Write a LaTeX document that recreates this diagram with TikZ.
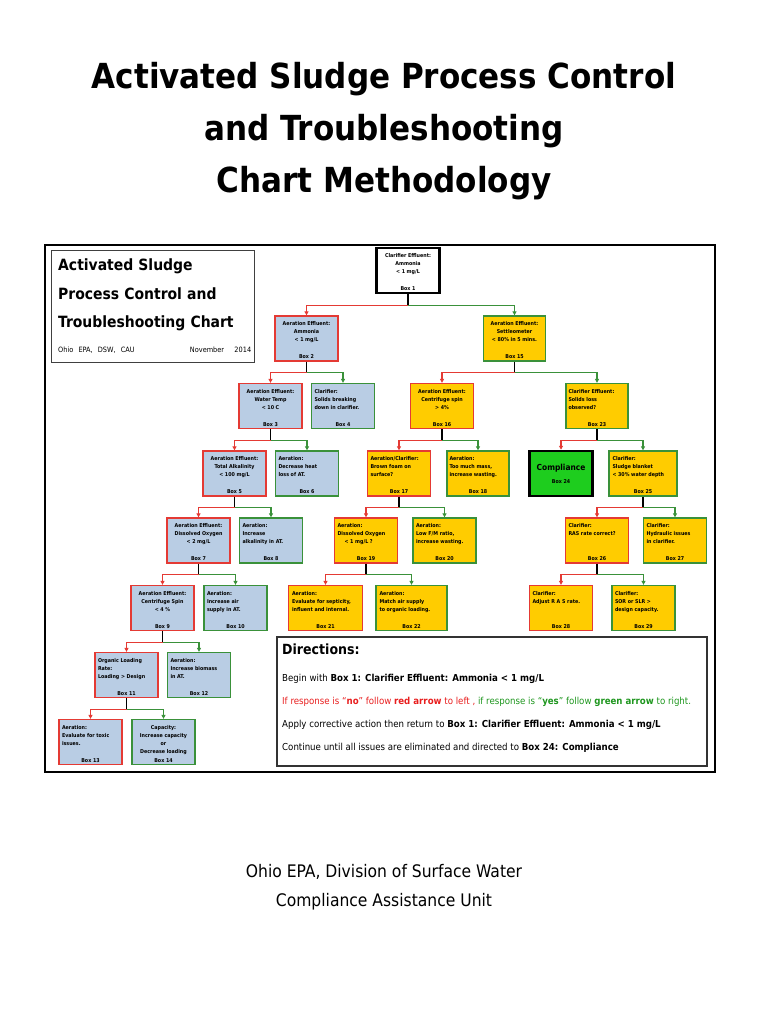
\documentclass[tikz,border=0pt]{standalone}
\usepackage{fontspec}
\setmainfont{DejaVu Sans Condensed}
\usetikzlibrary{arrows.meta}

\definecolor{boxblue}{RGB}{185,205,228}
\definecolor{boxyellow}{RGB}{255,204,0}
\definecolor{noline}{RGB}{228,58,52}
\definecolor{yesline}{RGB}{58,145,58}
\definecolor{compgreen}{RGB}{30,205,30}
\definecolor{notext}{RGB}{232,30,30}
\definecolor{yestext}{RGB}{30,150,30}

\tikzset{
  chartbox/.style={draw, rectangle, line width=1.3pt, inner sep=0pt,
    minimum width=63pt, minimum height=45pt,
    font=\fontsize{5.3}{8}\selectfont\bfseries},
  qblue/.style={chartbox, fill=boxblue, draw=noline},
  ablue/.style={chartbox, fill=boxblue, draw=yesline},
  qyellow/.style={chartbox, fill=boxyellow, draw=noline},
  ayellow/.style={chartbox, fill=boxyellow, draw=yesline},
  startbox/.style={chartbox, fill=white, draw=black, line width=2.5pt},
  compbox/.style={chartbox, fill=compgreen, draw=black, line width=2.5pt, align=center},
  stem/.style={line width=1.8pt, black},
  nolink/.style={line width=1.3pt, noline, -{Triangle[length=4pt,width=4pt]}},
  yeslink/.style={line width=1.3pt, yesline, -{Triangle[length=4pt,width=4pt]}}
}

% box text: lines at the top, box number at the bottom
\newcommand{\bx}[4][57pt]{\parbox[c][41pt][t]{#1}{#2\rule{0pt}{7.5pt}#3\par\vfill\centering Box #4}}

\begin{document}
\begin{tikzpicture}[x=1pt,y=-1pt]
    \useasboundingbox (0,0) rectangle (768,1024);

    \node[font=\fontsize{34.5}{52}\selectfont\bfseries, align=center] (title) at (384,131)
	{Activated Sludge Process Control\\and Troubleshooting\\Chart Methodology};

    \draw[line width=2pt] (45,245) rectangle (715,772);

    \node[draw=black!75, line width=1.4pt, minimum width=203pt, minimum height=112pt,
	inner sep=0pt, anchor=north west] (namebox) at (51,250) {};
    \node[anchor=north west, align=left, text width=193pt, inner sep=0pt,
	font=\fontsize{15.5}{28.5}\selectfont\bfseries] (nametext) at (58,259)
	{Activated Sludge\\Process Control and\\Troubleshooting Chart\\[-4pt]
	{\fontsize{7.3}{8}\selectfont\mdseries Ohio EPA, DSW, CAU\hfill November\ \ 2014\hspace*{4pt}}};

    % row 1
    \node[startbox] (b1) at (408,270.5) {\bx{\centering}{Clarifier Effluent:\\Ammonia\\< 1 mg/L}{1}};
    % row 2
    \node[qblue] (b2) at (306.5,338.5) {\bx{\centering}{Aeration Effluent:\\Ammonia\\< 1 mg/L}{2}};
    \node[ayellow, minimum width=62pt] (b15) at (514.5,338.5) {\bx{\centering}{Aeration Effluent:\\Settleometer\\< 80\% in 5 mins.}{15}};
    % row 3
    \node[qblue] (b3) at (270.5,406) {\bx{\centering}{Aeration Effluent:\\Water Temp\\< 10 C}{3}};
    \node[ablue] (b4) at (343,406) {\bx{\raggedright}{Clarifier:\\Solids breaking\\down in clarifier.}{4}};
    \node[qyellow] (b16) at (442,406) {\bx{\centering}{Aeration Effluent:\\Centrifuge spin\\> 4\%}{16}};
    \node[ayellow, minimum width=62pt] (b23) at (597,406) {\bx{\raggedright}{Clarifier Effluent:\\Solids loss\\observed?}{23}};
    % row 4
    \node[qblue] (b5) at (234.5,473.5) {\bx{\centering}{Aeration Effluent:\\Total Alkalinity\\< 100 mg/L}{5}};
    \node[ablue] (b6) at (307,473.5) {\bx{\raggedright}{Aeration:\\Decrease heat\\loss of AT.}{6}};
    \node[qyellow] (b17) at (399,473.5) {\bx{\raggedright}{Aeration/Clarifier:\\Brown foam on\\surface?}{17}};
    \node[ayellow, minimum width=62pt] (b18) at (478,473.5) {\bx{\raggedright}{Aeration:\\Too much mass,\\increase wasting.}{18}};
    \node[compbox] (b24) at (561,473.5) {{\fontsize{8.3}{10}\selectfont Compliance}\\[5pt]Box 24};
    \node[ayellow, minimum width=68pt] (b25) at (643,473.5) {\bx[61pt]{\raggedright}{Clarifier:\\Sludge blanket\\< 30\% water depth}{25}};
    % row 5
    \node[qblue] (b7) at (198.5,540.5) {\bx{\centering}{Aeration Effluent:\\Dissolved Oxygen\\< 2 mg/L}{7}};
    \node[ablue] (b8) at (271,540.5) {\bx{\raggedright}{Aeration:\\Increase\\alkalinity in AT.}{8}};
    \node[qyellow] (b19) at (366,540.5) {\bx{\raggedright}{Aeration:\\Dissolved Oxygen\\\hspace*{7pt}< 1 mg/L ?}{19}};
    \node[ayellow] (b20) at (444.5,540.5) {\bx{\raggedright}{Aeration:\\Low F/M ratio,\\increase wasting.}{20}};
    \node[qyellow] (b26) at (597,540.5) {\bx{\raggedright}{Clarifier:\\RAS rate correct?}{26}};
    \node[ayellow] (b27) at (675,540.5) {\bx{\raggedright}{Clarifier:\\Hydraulic issues\\in clarifier.}{27}};
    % row 6
    \node[qblue] (b9) at (162.5,608) {\bx{\centering}{Aeration Effluent:\\Centrifuge Spin\\< 4 \%}{9}};
    \node[ablue] (b10) at (235.5,608) {\bx{\raggedright}{Aeration:\\Increase air\\supply in AT.}{10}};
    \node[qyellow, minimum width=74pt] (b21) at (325.5,608) {\bx[67pt]{\raggedright}{Aeration:\\Evaluate for septicity,\\influent and internal.}{21}};
    \node[ayellow, minimum width=71pt] (b22) at (411.5,608) {\bx[64pt]{\raggedright}{Aeration:\\Match air supply\\to organic loading.}{22}};
    \node[qyellow] (b28) at (561,608) {\bx{\raggedright}{Clarifier:\\Adjust R A S rate.}{28}};
    \node[ayellow] (b29) at (643.5,608) {\bx{\raggedright}{Clarifier:\\SOR or SLR >\\design capacity.}{29}};
    % row 7
    \node[qblue] (b11) at (126.5,675) {\bx{\raggedright}{Organic Loading\\Rate:\\Loading > Design}{11}};
    \node[ablue] (b12) at (199,675) {\bx{\raggedright}{Aeration:\\Increase biomass\\in AT.}{12}};
    % row 8
    \node[qblue] (b13) at (90.5,742) {\bx{\raggedright}{Aeration:\\Evaluate for toxic\\issues.}{13}};
    \node[ablue] (b14) at (163.5,742) {\bx{\centering}{Capacity:\\Increase capacity\\or\\Decrease loading}{14}};

    % branches: red to the left, green to the right
    \draw[stem] (b1.south) -- ++(0,11) coordinate (j1);
    \draw[nolink] (j1) -| (b2.north);
    \draw[yeslink] (j1) -| (b15.north);
    \draw[stem] (b2.south) -- ++(0,11) coordinate (j2);
    \draw[nolink] (j2) -| (b3.north);
    \draw[yeslink] (j2) -| (b4.north);
    \draw[stem] (b3.south) -- ++(0,11) coordinate (j3);
    \draw[nolink] (j3) -| (b5.north);
    \draw[yeslink] (j3) -| (b6.north);
    \draw[stem] (b5.south) -- ++(0,11) coordinate (j5);
    \draw[nolink] (j5) -| (b7.north);
    \draw[yeslink] (j5) -| (b8.north);
    \draw[stem] (b7.south) -- ++(0,11) coordinate (j7);
    \draw[nolink] (j7) -| (b9.north);
    \draw[yeslink] (j7) -| (b10.north);
    \draw[stem] (b9.south) -- ++(0,11) coordinate (j9);
    \draw[nolink] (j9) -| (b11.north);
    \draw[yeslink] (j9) -| (b12.north);
    \draw[stem] (b11.south) -- ++(0,11) coordinate (j11);
    \draw[nolink] (j11) -| (b13.north);
    \draw[yeslink] (j11) -| (b14.north);
    \draw[stem] (b15.south) -- ++(0,11) coordinate (j15);
    \draw[nolink] (j15) -| (b16.north);
    \draw[yeslink] (j15) -| (b23.north);
    \draw[stem] (b16.south) -- ++(0,11) coordinate (j16);
    \draw[nolink] (j16) -| (b17.north);
    \draw[yeslink] (j16) -| (b18.north);
    \draw[stem] (b17.south) -- ++(0,11) coordinate (j17);
    \draw[nolink] (j17) -| (b19.north);
    \draw[yeslink] (j17) -| (b20.north);
    \draw[stem] (b19.south) -- ++(0,11) coordinate (j19);
    \draw[nolink] (j19) -| (b21.north);
    \draw[yeslink] (j19) -| (b22.north);
    \draw[stem] (b23.south) -- ++(0,11) coordinate (j23);
    \draw[nolink] (j23) -| (b24.north);
    \draw[yeslink] (j23) -| (b25.north);
    \draw[stem] (b25.south) -- ++(0,11) coordinate (j25);
    \draw[nolink] (j25) -| (b26.north);
    \draw[yeslink] (j25) -| (b27.north);
    \draw[stem] (b26.south) -- ++(0,11) coordinate (j26);
    \draw[nolink] (j26) -| (b28.north);
    \draw[yeslink] (j26) -| (b29.north);

    % directions
    \node[draw=black!80, line width=1.6pt, minimum width=430pt, minimum height=129pt,
	inner sep=0pt, anchor=north west] (dirbox) at (276,636) {};
    \node[anchor=north west, align=left, inner sep=0pt,
	font=\fontsize{9.6}{23}\selectfont] (dirtext) at (282,644)
	{{\fontsize{14}{16}\selectfont\bfseries Directions:}\\[4pt]
	Begin with \textbf{Box 1: Clarifier Effluent: Ammonia < 1 mg/L}\\
	{\color{notext}If response is ``\textbf{no}'' follow \textbf{red arrow} to left ,}
	{\color{yestext}if response is ``\textbf{yes}'' follow \textbf{green arrow} to right.}\\
	Apply corrective action then return to \textbf{Box 1: Clarifier Effluent: Ammonia < 1 mg/L}\\
	Continue until all issues are eliminated and directed to \textbf{Box 24: Compliance}};

    \node[font=\fontsize{17.3}{20}\selectfont] (foot1) at (384,872) {Ohio EPA, Division of Surface Water};
    \node[font=\fontsize{17.3}{20}\selectfont] (foot2) at (384,902) {Compliance Assistance Unit};
\end{tikzpicture}
\end{document}
